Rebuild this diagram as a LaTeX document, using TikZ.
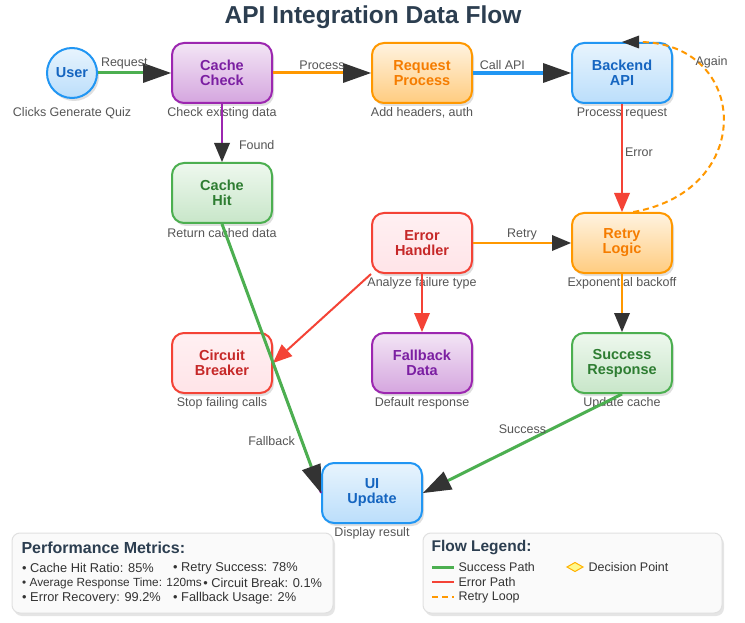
\documentclass[tikz,border=0pt]{standalone}
\usepackage{fontspec}
\setmainfont{Liberation Sans}
\usetikzlibrary{arrows.meta,shadows}

\definecolor{ink}{HTML}{2C3E50}
\definecolor{subtext}{HTML}{555555}
\definecolor{tipgray}{HTML}{333333}
\definecolor{bluD}{HTML}{2196F3}\definecolor{bluT}{HTML}{1565C0}
\definecolor{bluA}{HTML}{E8F4FD}\definecolor{bluB}{HTML}{BBDEFB}
\definecolor{purD}{HTML}{9C27B0}\definecolor{purT}{HTML}{7B1FA2}
\definecolor{purA}{HTML}{F3E5F5}\definecolor{purB}{HTML}{D5A6DF}
\definecolor{orgD}{HTML}{FF9800}\definecolor{orgT}{HTML}{F57C00}
\definecolor{orgA}{HTML}{FFF3E0}\definecolor{orgB}{HTML}{FFCC80}
\definecolor{grnD}{HTML}{4CAF50}\definecolor{grnT}{HTML}{2E7D32}
\definecolor{grnA}{HTML}{EEF8EE}\definecolor{grnB}{HTML}{C8E6C9}
\definecolor{redD}{HTML}{F44336}\definecolor{redT}{HTML}{C62828}
\definecolor{redA}{HTML}{FFF0F2}\definecolor{redB}{HTML}{FFE4E8}

\tikzset{
  box/.style={rounded corners=12pt, line width=2pt, minimum width=100pt, minimum height=60pt,
    align=center, font=\fontsize{14.5}{15}\selectfont\bfseries,
    drop shadow={shadow xshift=2pt, shadow yshift=-3pt, opacity=0.25}},
  bluebox/.style={box, draw=bluD, text=bluT, top color=bluA, bottom color=bluB},
  purbox/.style={box, draw=purD, text=purT, top color=purA, bottom color=purB},
  orgbox/.style={box, draw=orgD, text=orgT, top color=orgA, bottom color=orgB},
  grnbox/.style={box, draw=grnD, text=grnT, top color=grnA, bottom color=grnB},
  redbox/.style={box, draw=redD, text=redT, top color=redA, bottom color=redB},
  note/.style={font=\fontsize{12.5}{13}\selectfont, text=subtext},
  lbl/.style={font=\fontsize{12.5}{13}\selectfont, text=subtext, inner sep=2pt},
  bigtip/.style={-{Triangle[length=28pt,width=20pt,color=tipgray,line width=0pt]}},
  midtip/.style={-{Triangle[length=19pt,width=16pt,color=tipgray,line width=0pt]}},
  redtip/.style={-{Triangle[length=19pt,width=16pt,color=redD,line width=0pt]}},
  panel/.style={rounded corners=8pt, draw=black!12, line width=1pt, fill=black!2,
    drop shadow={shadow xshift=2pt, shadow yshift=-3pt, opacity=0.2}},
  metric/.style={anchor=west, font=\fontsize{12.8}{13}\selectfont, text=black!80, inner sep=0pt},
  legitem/.style={anchor=west, font=\fontsize{12.5}{13}\selectfont, text=black!80}
}

\begin{document}
\begin{tikzpicture}[x=1pt,y=1pt]
  \useasboundingbox[fill=white] (0,0) rectangle (745,-623);
  \node[font=\fontsize{24.5}{25}\selectfont\bfseries, text=ink] (title) at (373,-17) {API Integration Data Flow};

  % nodes
  \node[circle, line width=2pt, draw=bluD, text=bluT, top color=bluA, bottom color=bluB,
    minimum size=50pt, inner sep=0pt, font=\fontsize{14.5}{15}\selectfont\bfseries,
    drop shadow={shadow xshift=2pt, shadow yshift=-3pt, opacity=0.25}] (user) at (72,-73) {User};
  \node[purbox] (check) at (222,-73) {Cache\\Check};
  \node[orgbox] (reqproc) at (422,-73) {Request\\Process};
  \node[bluebox] (api) at (622,-73) {Backend\\API};
  \node[grnbox] (hit) at (222,-193) {Cache\\Hit};
  \node[redbox] (errh) at (422,-243) {Error\\Handler};
  \node[orgbox] (retry) at (622,-243) {Retry\\Logic};
  \node[redbox] (breaker) at (222,-363) {Circuit\\Breaker};
  \node[purbox] (fallback) at (422,-363) {Fallback\\Data};
  \node[grnbox] (success) at (622,-363) {Success\\Response};
  \node[bluebox] (ui) at (372,-493) {UI\\Update};

  % notes under the nodes
  \node[note] (userN) at (72,-113) {Clicks Generate Quiz};
  \node[note] (checkN) at (222,-113) {Check existing data};
  \node[note] (reqprocN) at (422,-113) {Add headers, auth};
  \node[note] (apiN) at (622,-113) {Process request};
  \node[note] (hitN) at (222,-233) {Return cached data};
  \node[note] (errhN) at (422,-283) {Analyze failure type};
  \node[note] (retryN) at (622,-283) {Exponential backoff};
  \node[note] (breakerN) at (222,-403) {Stop failing calls};
  \node[note] (fallbackN) at (422,-403) {Default response};
  \node[note] (successN) at (622,-403) {Update cache};
  \node[note] (uiN) at (372,-533) {Display result};

  % connectors
  \draw[grnD, line width=3pt, bigtip] (user) -- node[lbl, above, pos=0.36]{Request} (check);
  \draw[orgD, line width=3pt, bigtip] (check) -- node[lbl, above]{Process} (reqproc);
  \draw[bluD, line width=3.5pt, bigtip] (reqproc) -- node[lbl, above, pos=0.3]{Call API} (api);
  \draw[purD, line width=2pt, midtip] (check) -- node[lbl, right, pos=0.7, xshift=14pt]{Found} (hit);
  \draw[redD, line width=2pt, redtip] (api) -- node[lbl, right, pos=0.45]{Error} (retry);
  \draw[orgD, line width=2pt, dash pattern=on 6pt off 4pt, -{Triangle[length=17pt,width=13pt,color=tipgray,line width=0pt]}]
    (retry.70) to[out=10, in=0, looseness=1.9] node[lbl, pos=0.76, xshift=19pt, yshift=2pt]{Again} (api.north);
  \draw[orgD, line width=2pt, midtip] (errh) -- node[lbl, above]{Retry} (retry);
  \draw[redD, line width=2pt, redtip] (errh.south west) -- (breaker.east);
  \draw[redD, line width=2pt, redtip] (errh) -- (fallback);
  \draw[orgD, line width=2pt, midtip] (retry) -- (success);
  \draw[purD, line width=2pt] (breaker.east) -- node[lbl, left, pos=0.6, xshift=-4pt]{Fallback} (ui.west);
  \draw[grnD, line width=3pt, bigtip] (hit.south) -- (ui.west);
  \draw[grnD, line width=3pt, bigtip] (success.south) -- node[lbl, above, pos=0.5, yshift=6pt]{Success} (ui.east);

  % metrics panel
  \node[panel, minimum width=321pt, minimum height=80pt] (metrics) at (172.5,-573) {};
  \node[anchor=west, font=\fontsize{16}{16}\selectfont\bfseries, text=ink] (metricsT) at (18,-548) {Performance Metrics:};
  \node[metric] (m1) at (22,-568) {• Cache Hit Ratio: 85\%};
  \node[metric, font=\fontsize{11.8}{13}\selectfont] (m2) at (22,-583) {• Average Response Time: 120ms};
  \node[metric] (m3) at (22,-598) {• Error Recovery: 99.2\%};
  \node[metric] (m4) at (173,-568) {• Retry Success: 78\%};
  \node[metric, right=1pt] (m5) at (m2.east) {• Circuit Break: 0.1\%};
  \node[metric] (m6) at (173,-598) {• Fallback Usage: 2\%};

  % legend panel
  \node[panel, minimum width=299pt, minimum height=80pt] (legend) at (572.5,-573) {};
  \node[anchor=west, font=\fontsize{15.5}{16}\selectfont\bfseries, text=ink] (legendT) at (428,-548) {Flow Legend:};
  \draw[grnD, line width=3pt] (432,-567) -- (454,-567);
  \draw[redD, line width=2pt] (432,-582) -- (454,-582);
  \draw[orgD, line width=2pt, dash pattern=on 6pt off 4pt] (432,-597) -- (454,-597);
  \node[legitem] (l1) at (455,-567) {Success Path};
  \node[legitem] (l2) at (455,-582) {Error Path};
  \node[legitem] (l3) at (455,-597) {Retry Loop};
  \draw[fill=yellow!45, draw=orange!60!yellow, line width=1pt] (567,-567) -- (575,-562.5) -- (583,-567) -- (575,-571.5) -- cycle;
  \node[legitem] (l4) at (585,-567) {Decision Point};
\end{tikzpicture}
\end{document}
